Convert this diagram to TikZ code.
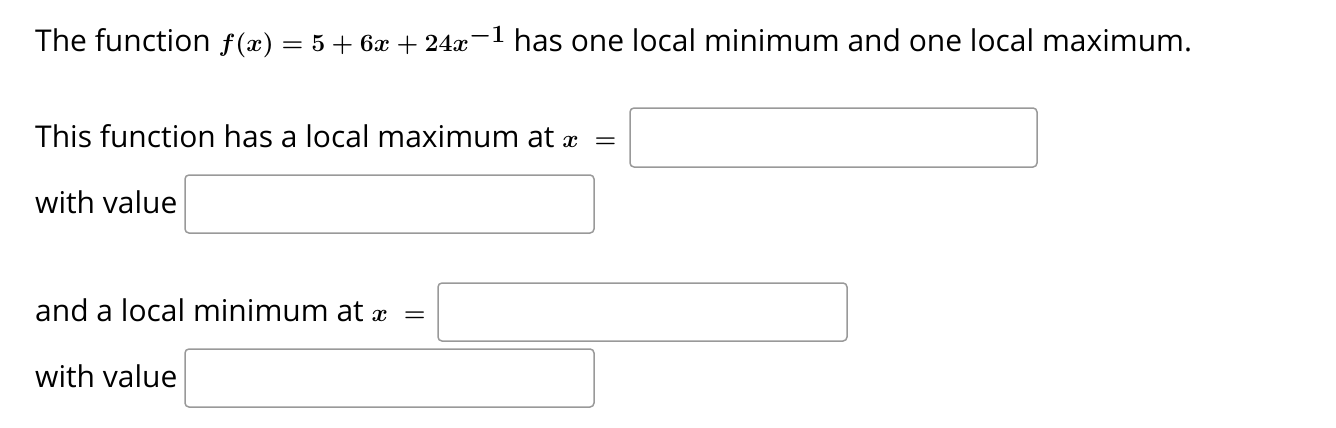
\documentclass[tikz,border=0pt]{standalone}
\usepackage{fontspec}
\setmainfont{Open Sans}
\newcommand{\bm}[1]{{\fontsize{41}{44}\selectfont\boldmath$#1$}}
\begin{document}
\begin{tikzpicture}[x=1pt,y=-1pt,
  txt/.style={anchor=base west,inner sep=0pt,font=\fontsize{30}{34}\selectfont},
  ansbox/.style={draw=gray!80,line width=1.5pt,rounded corners=4pt}]
\useasboundingbox (0,0) rectangle (1336,428);
\node[txt] (l1) at (35,52) {The function \bm{f(x)=5+6x+24x^{-1}} has one local minimum and one local maximum.};
\node[txt] (l2) at (35,147) {This function has a local maximum at \bm{x\;=}};
\node[txt] (l3) at (35,213) {with value};
\node[txt] (l4) at (35,321) {and a local minimum at \bm{x\;=}};
\node[txt] (l5) at (35,387) {with value};
\draw[ansbox] (630,108) rectangle (1037,167);
\draw[ansbox] (185,175) rectangle (594,233);
\draw[ansbox] (438,283) rectangle (847,341);
\draw[ansbox] (185,349) rectangle (594,407);
\end{tikzpicture}
\end{document}
